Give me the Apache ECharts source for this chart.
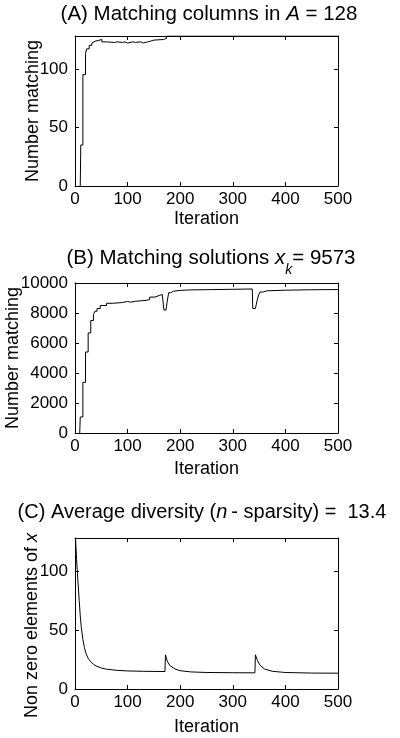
<!DOCTYPE html>
<html>
<head>
<meta charset="utf-8">
<script src="https://cdn.jsdelivr.net/npm/echarts@6/dist/echarts.min.js"></script>
<style>html,body{margin:0;padding:0;background:#fff;}#c{width:400px;height:738px;}</style>
</head>
<body>
<div id="c"></div>
<script>
// Panel A: matching columns in A (step)
const iterA = [10, 11, 15, 20, 22, 27, 32, 35, 38, 51, 60, 75, 80, 90, 95, 100, 110, 115, 125, 130, 138, 143, 150, 168, 174, 500];
const valA  = [0, 35, 95, 113, 117, 120, 122, 123.5, 125, 123, 122.5, 123, 122.5, 123, 122, 123, 122.5, 123, 122, 123, 123.5, 124.5, 125, 126, 128, 128];
// Panel B: matching solutions x_k (step)
const iterB = [9, 10, 15, 20, 25, 30, 35, 38, 42, 48, 60, 73, 90, 100, 105, 115, 127, 135, 142, 152, 160, 166, 169, 173, 175, 178, 182, 187, 200, 220, 260, 300, 337, 338, 343, 346, 349, 352, 358, 365, 400, 450, 500];
const valB  = [0, 1070, 3380, 5400, 6670, 7500, 7900, 8120, 8300, 8500, 8650, 8700, 8770, 8720, 8780, 8820, 8840, 8900, 9060, 9170, 9230, 9260, 8200, 8250, 8700, 9350, 9450, 9510, 9540, 9560, 9580, 9600, 9610, 8300, 8350, 8800, 9200, 9400, 9480, 9520, 9550, 9565, 9573];
// Panel C: non zero elements of x
const iterC = [1, 3, 5, 8, 10, 12, 15, 18, 21, 25, 30, 35, 40, 50, 60, 80, 100, 130, 171, 172, 175, 180, 190, 200, 220, 250, 300, 342, 343, 347, 352, 360, 375, 400, 450, 500];
const valC  = [128, 110, 95, 75, 62, 52, 42, 35, 30, 26, 23, 21, 19.5, 17.8, 16.8, 15.8, 15.3, 15, 14.8, 29, 24, 20, 17, 15.5, 14.5, 14, 13.8, 13.7, 29, 24, 20, 17, 15, 14, 13.5, 13.4];
const xTicks = [0, 100, 200, 300, 400, 500];

const pair = (xs, ys) => xs.map((x, i) => [x, ys[i]]);
const FONT = 'Liberation Sans, Arial, Helvetica, sans-serif';
const grids = [
  {left: 75, width: 263, top: 36, height: 150, outerBoundsMode: 'none', containLabel: false},
  {left: 75, width: 263, top: 283, height: 150, outerBoundsMode: 'none', containLabel: false},
  {left: 75, width: 263, top: 538, height: 151, outerBoundsMode: 'none', containLabel: false}
];
const yCfg = [
  {max: 128, interval: 50, name: 'Number matching', gap: 33, pad: [0, 0, 0, 0]},
  {max: 10000, interval: 2000, name: 'Number matching', gap: 53, pad: [0, 0, 0, 0]},
  {max: 128, interval: 50, name: 'Non zero elements of {i|x}', gap: 34, pad: [0, 24, 0, 0]}
];
const xNameGap = [24, 27, 29];
const axLine = {show: true, onZero: false, lineStyle: {color: '#000', width: 1}};
const tick = {show: true, inside: true, length: 4, lineStyle: {color: '#000', width: 1}};
const xAxis = [], yAxis = [];
grids.forEach((g, i) => {
  xAxis.push({
    type: 'value', gridIndex: i, min: 0, max: 500, interval: 100, position: 'bottom',
    axisLine: axLine, axisTick: tick, splitLine: {show: false},
    axisLabel: {color: '#000', fontSize: 17, fontFamily: FONT, margin: 5,
      formatter: v => xTicks.includes(v) ? String(v) : ''},
    name: 'Iteration', nameLocation: 'middle', nameGap: xNameGap[i], nameMoveOverlap: false,
    nameTextStyle: {color: '#000', fontSize: 18, fontFamily: FONT}
  });
  xAxis.push({
    type: 'value', gridIndex: i, min: 0, max: 500, interval: 100, position: 'top',
    axisLine: axLine, axisTick: tick, splitLine: {show: false}, axisLabel: {show: false}
  });
  const yc = yCfg[i];
  yAxis.push({
    type: 'value', gridIndex: i, min: 0, max: yc.max, interval: yc.interval, position: 'left',
    axisLine: axLine, axisTick: tick, splitLine: {show: false},
    axisLabel: {color: '#000', fontSize: 17, fontFamily: FONT, margin: 7,
      formatter: v => (v % yc.interval === 0) ? String(v) : ''},
    name: yc.name, nameLocation: 'middle', nameGap: yc.gap, nameMoveOverlap: false,
    nameTextStyle: {color: '#000', fontSize: 18, fontFamily: FONT, padding: yc.pad,
      rich: {i: {fontStyle: 'italic', fontSize: 18, fontFamily: FONT, color: '#000'}}}
  });
  yAxis.push({
    type: 'value', gridIndex: i, min: 0, max: yc.max, interval: yc.interval, position: 'right',
    axisLine: axLine, axisTick: tick, splitLine: {show: false}, axisLabel: {show: false}
  });
});
const lineSeries = (idx, data, step) => ({
  type: 'line', xAxisIndex: idx * 2, yAxisIndex: idx * 2, data: data, step: step,
  showSymbol: false, symbol: 'none', animation: false, clip: true,
  lineStyle: {color: '#000', width: 1}
});
const mkTitleStyle = (tf) => ({color: '#000', fontSize: tf, fontWeight: 'normal', fontFamily: FONT, lineHeight: 24,
  rich: {
    n: {fontSize: tf, fontFamily: FONT, color: '#000', lineHeight: 24, verticalAlign: 'top'},
    i: {fontStyle: 'italic', fontSize: tf, fontFamily: FONT, color: '#000', lineHeight: 24, verticalAlign: 'top'},
    s: {fontStyle: 'italic', fontSize: 14, fontFamily: FONT, color: '#000', lineHeight: 29, verticalAlign: 'bottom'}
  }});
const chart = echarts.init(document.getElementById('c'), null, {renderer: 'canvas'});
chart.setOption({
  animation: false,
  backgroundColor: '#fff',
  title: [
    {text: '{n|(A) Matching columns in }{i|A}{n| = 128}', left: 204, top: -1, textAlign: 'center', textStyle: mkTitleStyle(20.5)},
    {text: '{n|(B) Matching solutions }{i|x}{s|k}{n|= 9573}', left: 206, top: 243, textAlign: 'center', textStyle: mkTitleStyle(20.5)},
    {text: '{n|(C) Average diversity (}{i|n}{n|\u2009- sparsity) =  13.4}', left: 197, top: 497, textAlign: 'center', textStyle: mkTitleStyle(20)}
  ],
  grid: grids,
  xAxis: xAxis,
  yAxis: yAxis,
  series: [
    lineSeries(0, pair(iterA, valA), 'end'),
    lineSeries(1, pair(iterB, valB), 'end'),
    lineSeries(2, pair(iterC, valC), false)
  ]
});
</script>
</body>
</html>
